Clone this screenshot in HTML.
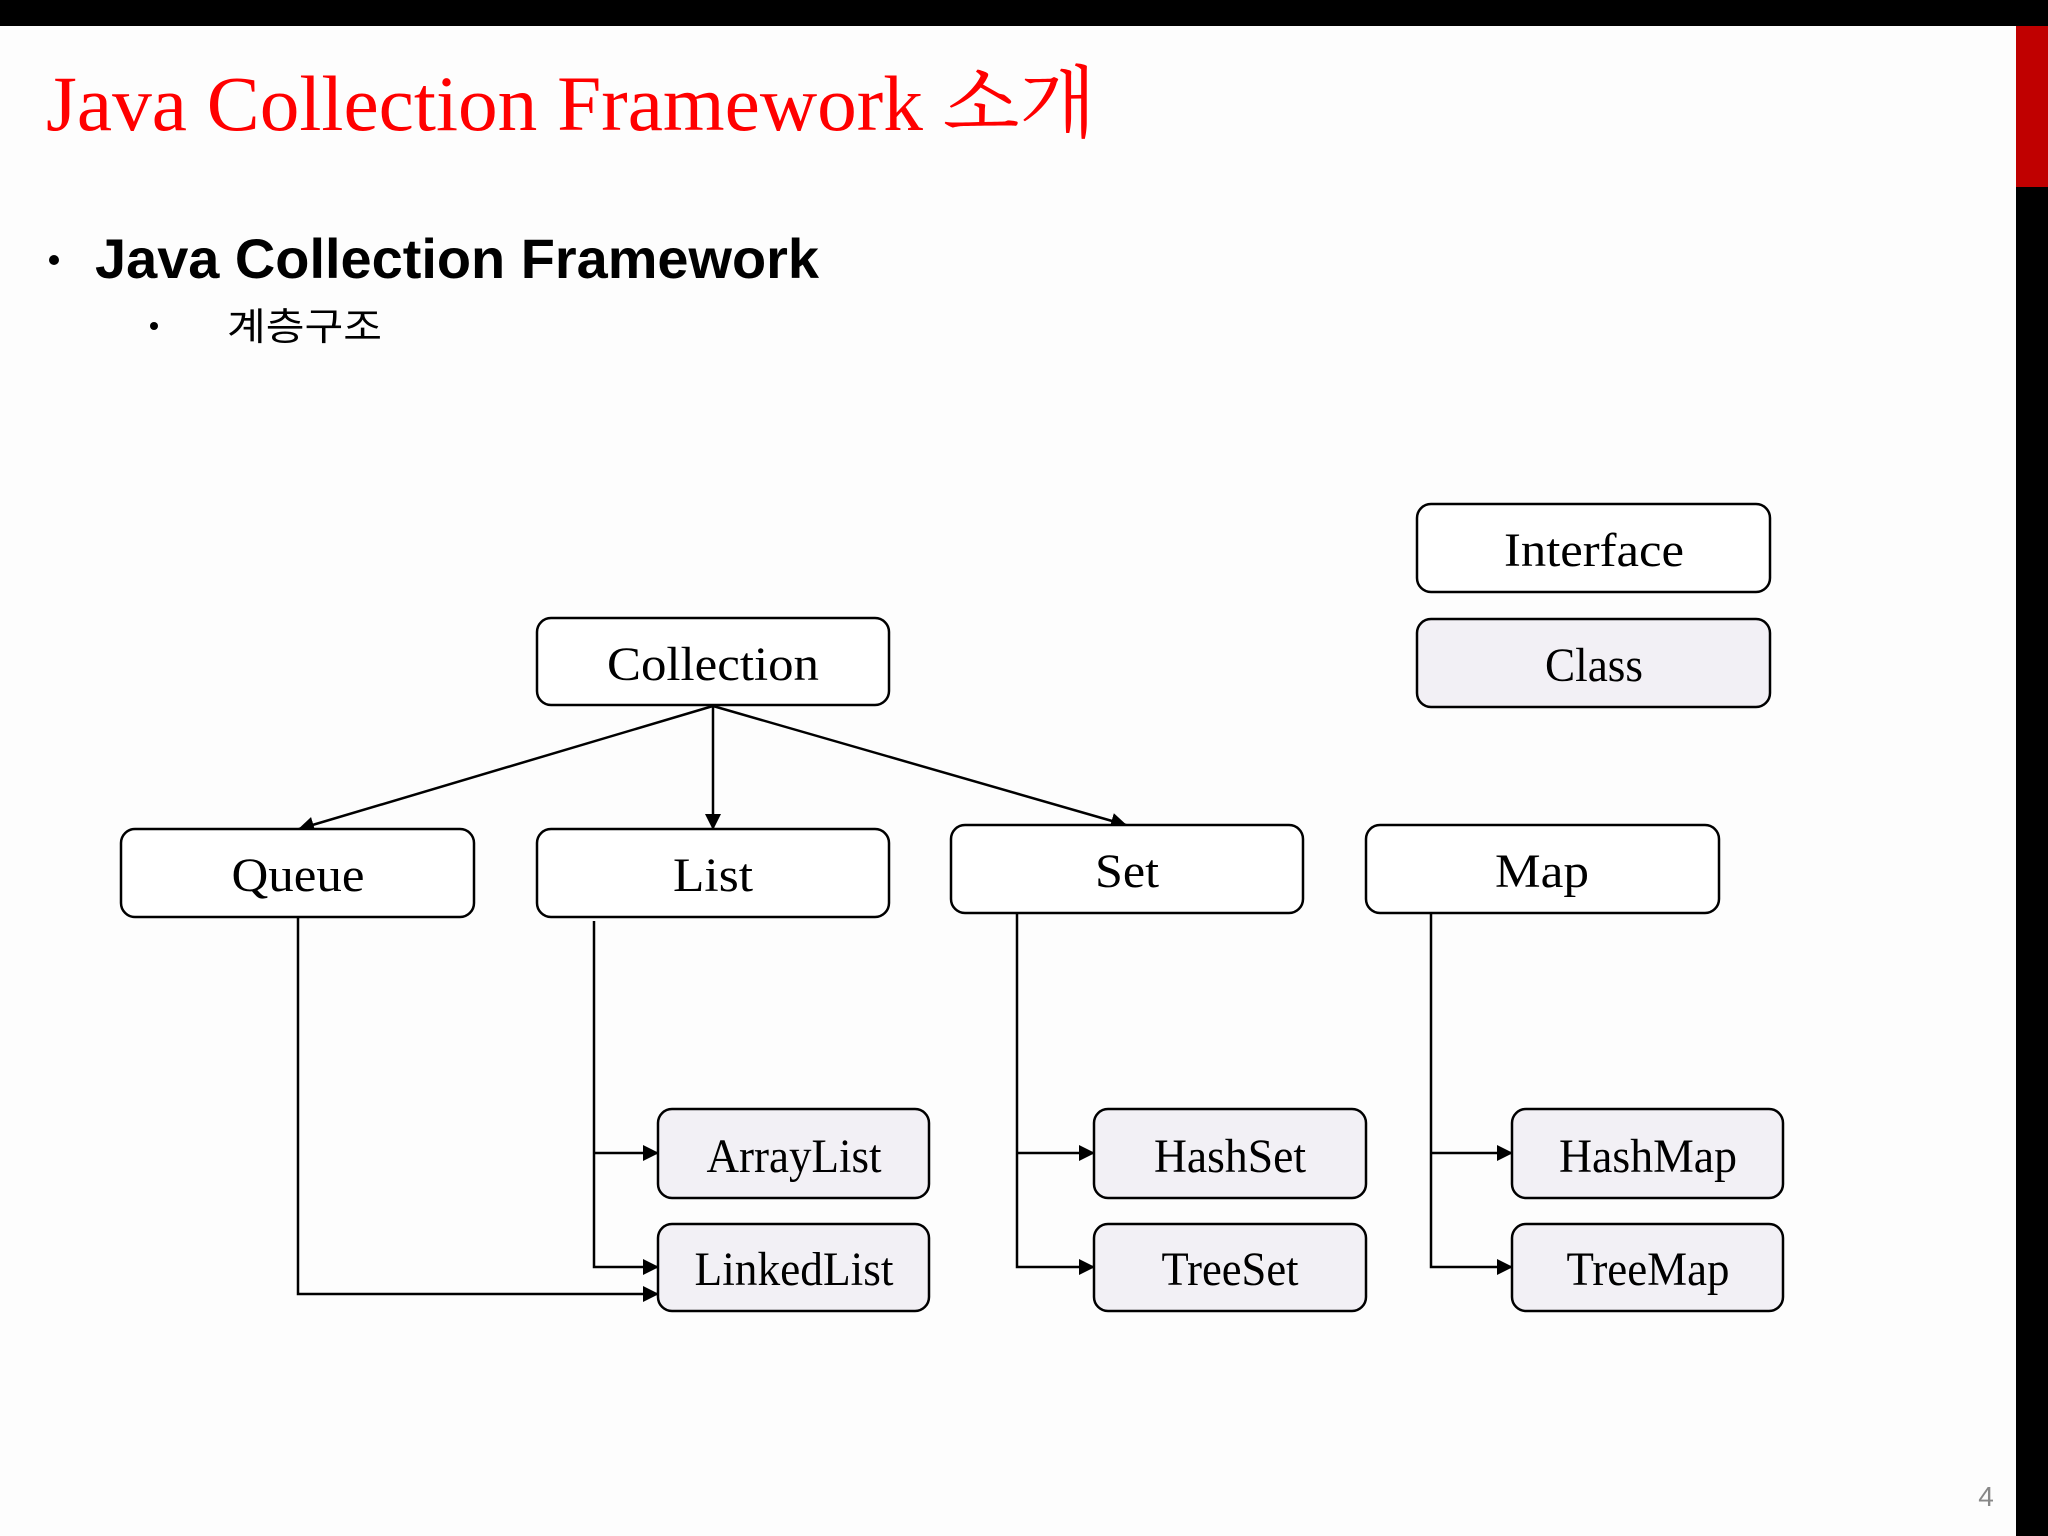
<!DOCTYPE html>
<html><head><meta charset="utf-8"><style>
html,body{margin:0;padding:0;background:#fdfdfd;}
svg{display:block}
</style></head><body>
<svg width="2048" height="1536" viewBox="0 0 2048 1536" xmlns="http://www.w3.org/2000/svg">
<defs><marker id="a" markerWidth="16" markerHeight="16" refX="15" refY="8" orient="auto" markerUnits="userSpaceOnUse"><path d="M0,0 L16,8 L0,16 z" fill="#000"/></marker></defs>
<rect width="2048" height="1536" fill="#fdfdfd"/>
<rect x="0" y="0" width="2048" height="26" fill="#000"/>
<rect x="2016" y="0" width="32" height="1536" fill="#000"/>
<rect x="2016" y="26" width="32" height="161" fill="#c00000"/>
<text x="46" y="130" font-family="Liberation Serif, Noto Serif CJK SC, serif" font-size="78" fill="#ff0000" textLength="1050" lengthAdjust="spacingAndGlyphs">Java Collection Framework 소개</text>
<circle cx="54" cy="260" r="5" fill="#000"/>
<text x="95" y="278" font-family="Liberation Sans, Noto Sans CJK KR, sans-serif" font-weight="bold" font-size="56" fill="#000" textLength="724" lengthAdjust="spacingAndGlyphs">Java Collection Framework</text>
<circle cx="154" cy="326" r="4" fill="#000"/>
<text x="227" y="340" font-family="Liberation Sans, Noto Sans CJK KR, sans-serif" font-size="38" fill="#000" textLength="155" lengthAdjust="spacingAndGlyphs">계층구조</text>
<g fill="none" stroke="#000" stroke-width="2.5">
<line x1="713" y1="706" x2="299" y2="829" marker-end="url(#a)"/>
<line x1="713" y1="706" x2="713" y2="829" marker-end="url(#a)"/>
<line x1="713" y1="706" x2="1126" y2="825" marker-end="url(#a)"/>
<polyline points="298,917 298,1294 658,1294" marker-end="url(#a)"/>
<polyline points="594,921 594,1267 658,1267" marker-end="url(#a)"/>
<polyline points="594,1153 658,1153" marker-end="url(#a)"/>
<polyline points="1017,913 1017,1267 1094,1267" marker-end="url(#a)"/>
<polyline points="1017,1153 1094,1153" marker-end="url(#a)"/>
<polyline points="1431,913 1431,1267 1512,1267" marker-end="url(#a)"/>
<polyline points="1431,1153 1512,1153" marker-end="url(#a)"/>
</g>
<g stroke="#000" stroke-width="2.5" font-family="Liberation Serif, serif" font-size="48" text-anchor="middle">
<rect x="1417" y="504" width="353" height="88" rx="14" fill="#fff"/>
<rect x="1417" y="619" width="353" height="88" rx="14" fill="#f2f0f5"/>
<rect x="537" y="618" width="352" height="87" rx="14" fill="#fff"/>
<rect x="121" y="829" width="353" height="88" rx="14" fill="#fff"/>
<rect x="537" y="829" width="352" height="88" rx="14" fill="#fff"/>
<rect x="951" y="825" width="352" height="88" rx="14" fill="#fff"/>
<rect x="1366" y="825" width="353" height="88" rx="14" fill="#fff"/>
<rect x="658" y="1109" width="271" height="89" rx="14" fill="#f2f0f5"/>
<rect x="658" y="1224" width="271" height="87" rx="14" fill="#f2f0f5"/>
<rect x="1094" y="1109" width="272" height="89" rx="14" fill="#f2f0f5"/>
<rect x="1094" y="1224" width="272" height="87" rx="14" fill="#f2f0f5"/>
<rect x="1512" y="1109" width="271" height="89" rx="14" fill="#f2f0f5"/>
<rect x="1512" y="1224" width="271" height="87" rx="14" fill="#f2f0f5"/>
<g stroke="none" fill="#000">
<text x="1594" y="566" textLength="180" lengthAdjust="spacingAndGlyphs">Interface</text>
<text x="1594" y="681" textLength="98" lengthAdjust="spacingAndGlyphs">Class</text>
<text x="713" y="680" textLength="212" lengthAdjust="spacingAndGlyphs">Collection</text>
<text x="298" y="891" textLength="133" lengthAdjust="spacingAndGlyphs">Queue</text>
<text x="713" y="891" textLength="80" lengthAdjust="spacingAndGlyphs">List</text>
<text x="1127" y="887" textLength="64" lengthAdjust="spacingAndGlyphs">Set</text>
<text x="1542" y="887" textLength="94" lengthAdjust="spacingAndGlyphs">Map</text>
<text x="794" y="1172" textLength="175" lengthAdjust="spacingAndGlyphs">ArrayList</text>
<text x="794" y="1285" textLength="199" lengthAdjust="spacingAndGlyphs">LinkedList</text>
<text x="1230" y="1172" textLength="152" lengthAdjust="spacingAndGlyphs">HashSet</text>
<text x="1230" y="1285" textLength="137" lengthAdjust="spacingAndGlyphs">TreeSet</text>
<text x="1648" y="1172" textLength="178" lengthAdjust="spacingAndGlyphs">HashMap</text>
<text x="1648" y="1285" textLength="163" lengthAdjust="spacingAndGlyphs">TreeMap</text>
</g>
</g>
<text x="1986" y="1506" font-family="Liberation Sans, sans-serif" font-size="28" fill="#888" text-anchor="middle">4</text>
</svg>
</body></html>
